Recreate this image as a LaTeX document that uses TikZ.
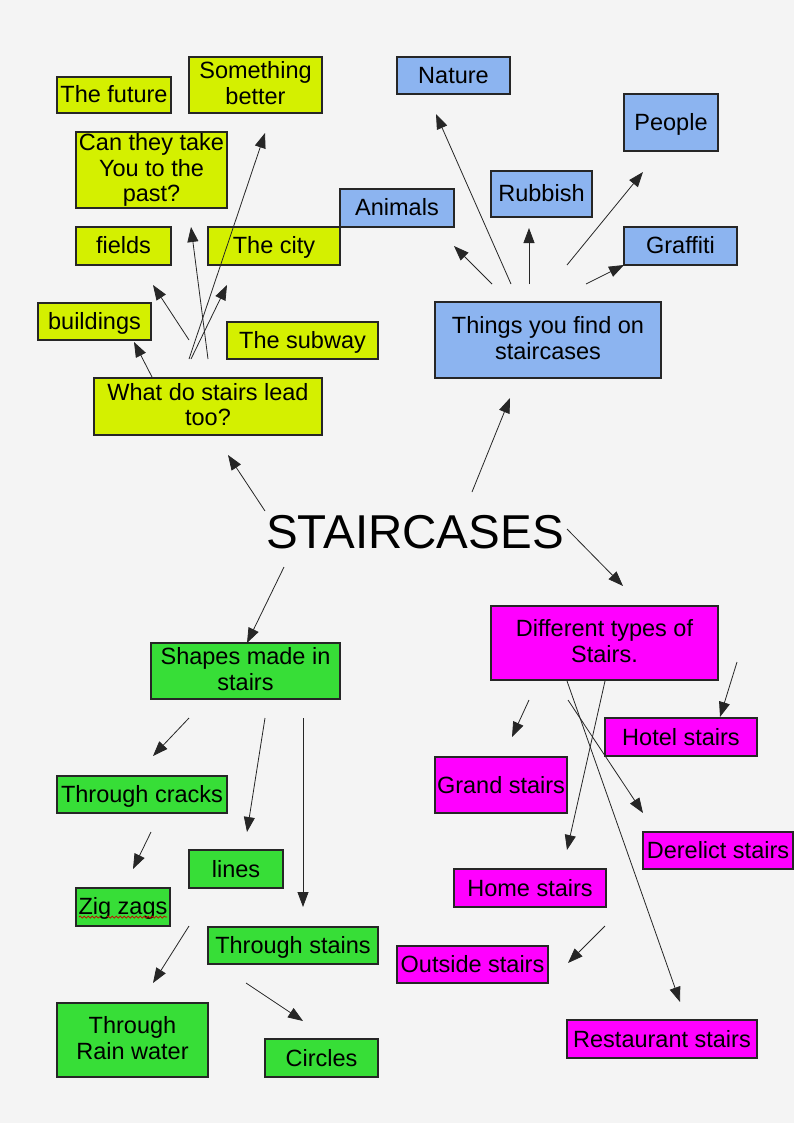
\documentclass[tikz,border=0pt]{standalone}
\usepackage{fontspec}
\setmainfont{Liberation Sans}
\usetikzlibrary{arrows.meta,decorations.pathmorphing}
\definecolor{bgc}{RGB}{244,244,244}
\definecolor{yel}{RGB}{212,240,0}
\definecolor{blu}{RGB}{140,180,240}
\definecolor{grn}{RGB}{55,222,55}
\definecolor{mag}{RGB}{255,0,255}
\newcommand\mystrut{\rule[-4pt]{0pt}{24pt}}
\tikzset{
  base/.style={draw=black!85, line width=1.1pt, inner sep=0pt, align=center, font=\fontsize{23.5}{25.5}\selectfont,
    execute at begin node=\mystrut, execute at end node=\mystrut},
  ybox/.style={base, fill=yel},
  bbox/.style={base, fill=blu},
  gbox/.style={base, fill=grn},
  mbox/.style={base, fill=mag},
  conn/.style={draw=black!85, line width=0.8pt, -{Triangle[length=15pt,width=11pt]}},
  title/.style={font=\fontsize{47.5}{50}\selectfont, inner sep=0pt},
  squig/.style={draw=red!80!black, line width=0.7pt, decorate, decoration={snake, amplitude=1pt, segment length=4pt}}
}
\newcommand\mybox[7]{\node[#1, minimum width={(#4)-(#2)}, minimum height={(#5)-(#3)}] (#6) at ({((#2)+(#4))/2},{((#3)+(#5))/2}) {#7};}
\newcommand\myarrow[3]{\coordinate (#1s) at (#2); \coordinate (#1e) at (#3); \draw[conn] (#1s) -- (#1e);}
\begin{document}
\begin{tikzpicture}[x=1pt,y=-1pt]
\fill[bgc] (0,0) rectangle (794,1123);
\useasboundingbox (0,0) rectangle (794,1123);
% title
\node[title] (stair) at (415,532) {STAIRCASES};
% yellow group
\mybox{ybox}{57}{77}{171}{113}{future}{The future}
\mybox{ybox}{189}{57}{322}{113}{better}{Something\\better}
\mybox{ybox}{76}{132}{227}{208}{past}{Can they take\\You to the\\past?}
\mybox{ybox}{76}{227}{171}{265}{fields}{fields}
\mybox{bbox}{340}{189}{454}{227}{animals}{Animals}
\mybox{ybox}{208}{227}{340}{265}{city}{The city}
\mybox{ybox}{38}{303}{151}{340}{buildings}{buildings}
\mybox{ybox}{227}{322}{378}{359}{subway}{The subway}
\mybox{ybox}{94}{378}{322}{435}{lead}{What do stairs lead\\too?}
% blue group
\mybox{bbox}{397}{57}{510}{94}{nature}{Nature}
\mybox{bbox}{624}{94}{718}{151}{people}{People}
\mybox{bbox}{491}{171}{592}{217}{rubbish}{Rubbish}
\mybox{bbox}{624}{227}{737}{265}{graffiti}{Graffiti}
\mybox{bbox}{435}{302}{661}{378}{things}{Things you find on\\staircases}
% green group
\mybox{gbox}{151}{643}{340}{699}{shapes}{Shapes made in\\stairs}
\mybox{gbox}{57}{776}{227}{813}{cracks}{Through cracks}
\mybox{gbox}{189}{850}{283}{888}{lines}{lines}
\mybox{gbox}{76}{888}{170}{926}{zig}{Zig zags}
\mybox{gbox}{208}{927}{378}{964}{stains}{Through stains}
\mybox{gbox}{57}{1003}{208}{1077}{rain}{Through\\Rain water}
\mybox{gbox}{265}{1039}{378}{1077}{circles}{Circles}
\draw[squig] (79,917) -- (101,917);
\draw[squig] (107,917) -- (167,917);
% magenta group
\mybox{mbox}{491}{606}{718}{680}{types}{Different types of\\Stairs.}
\mybox{mbox}{605}{718}{757}{756}{hotel}{Hotel stairs}
\mybox{mbox}{435}{757}{567}{813}{grand}{Grand stairs}
\mybox{mbox}{643}{832}{793}{869}{derelict}{Derelict stairs}
\mybox{mbox}{454}{869}{606}{907}{home}{Home stairs}
\mybox{mbox}{397}{946}{548}{983}{outside}{Outside stairs}
\mybox{mbox}{567}{1020}{757}{1058}{restaurant}{Restaurant stairs}
% arrows from title
\myarrow{tl}{265,511}{228,455}
\myarrow{tt}{472,492}{510,398}
\myarrow{tr}{567,529}{623,586}
\myarrow{tb}{284,567}{247,643}
% yellow arrows
\myarrow{ya}{208,359}{191,227}
\myarrow{yb}{189,359}{265,133}
\myarrow{yc}{189,340}{153,285}
\myarrow{yd}{191,359}{227,285}
\myarrow{ye}{152,377}{134,342}
% blue arrows
\myarrow{ba}{492,284}{454,246}
\myarrow{bb}{511,284}{436,114}
\myarrow{bc}{529,284}{529,228}
\myarrow{bd}{567,265}{643,172}
\myarrow{be}{586,284}{624,265}
% green arrows
\myarrow{ga}{189,718}{153,756}
\myarrow{gb}{265,718}{247,832}
\myarrow{gc}{303,718}{303,907}
\myarrow{gd}{151,832}{133,869}
\myarrow{ge}{189,926}{153,983}
\myarrow{gf}{246,983}{303,1021}
% magenta arrows
\myarrow{ma}{529,700}{512,737}
\myarrow{mb}{737,662}{720,717}
\myarrow{mc}{568,700}{643,813}
\myarrow{md}{605,681}{567,850}
\myarrow{me}{567,681}{680,1002}
\myarrow{mf}{605,926}{568,963}
\end{tikzpicture}
\end{document}
